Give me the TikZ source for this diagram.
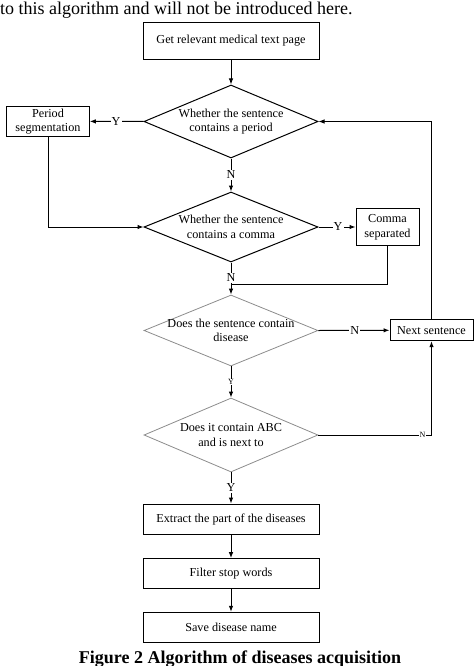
\documentclass[tikz,border=0pt]{standalone}
\usepackage{fontspec}
\setmainfont{Liberation Serif}
\usetikzlibrary{shapes.geometric,arrows.meta,positioning}

\begin{document}
\begin{tikzpicture}[
    x=1pt, y=-1pt,
    every node/.style={
        font=\fontsize{12.2}{14.6}\selectfont,
        inner sep=0pt,
        align=center
    },
    box/.style={draw, line width=1pt, rectangle, minimum width=176pt, minimum height=30pt},
    smallbox/.style={draw, line width=1pt, rectangle},
    decision/.style={draw, line width=1pt, diamond, minimum width=174pt, minimum height=72pt},
    fadedecision/.style={decision, draw=black!45, line width=0.8pt},
    flow/.style={line width=1pt, -{Latex[length=6pt,width=4.5pt]}},
    plain/.style={line width=1pt},
    tag/.style={fill=white, inner sep=1pt},
    smalltag/.style={fill=white, inner sep=0.5pt, font=\fontsize{8}{9}\selectfont}
]
\useasboundingbox (0,0) rectangle (474,666);

\node[anchor=base west, font=\fontsize{18}{20}\selectfont] (intro) at (0,15)
    {to this algorithm and will not be introduced here.};

\node[box, minimum height=37pt] (page) at (231,40.8) {Get relevant medical text page};
\node[decision, minimum height=73pt] (period) at (231,121.5) {};
\node at (period) {Whether the sentence\\contains a period};
\node[smallbox, minimum width=82.6pt, minimum height=29.3pt] (periodseg) at (48,121.4)
    {Period\\segmentation};
\node[decision, minimum height=70pt] (comma) at (231,227) {};
\node at (comma) {Whether the sentence\\contains a comma};
\node[smallbox, minimum width=63pt, minimum height=37.4pt] (commasep) at (387.5,227)
    {Comma\\separated};
\node[fadedecision, minimum height=71pt] (disease) at (231,330.5) {};
\node at (disease) {Does the sentence contain\\disease};
\node[smallbox, minimum width=83pt, minimum height=20.7pt] (next) at (431.5,330.3)
    {Next sentence};
\node[fadedecision, minimum height=74pt] (abc) at (231,435) {};
\node at (abc) {Does it contain ABC\\and is next to};
\node[box, minimum height=30.3pt] (extract) at (231,519.2) {Extract the part of the diseases};
\node[box, minimum height=29.6pt] (filter) at (231,573.5) {Filter stop words};
\node[box] (save) at (231,627.3) {Save disease name};

\node[anchor=base, font=\fontsize{18}{20}\selectfont\bfseries] (caption) at (240,663)
    {Figure 2 Algorithm of diseases acquisition};

\coordinate (join) at (231,284);

\draw[flow] (page) -- (period.north);
\draw[flow] (period.west) -- node[tag, pos=0.51]{Y} (periodseg.east);
\draw[flow] (period.south) -- node[tag]{N} (comma.north);
\draw[flow] (periodseg.south) |- (comma.west);
\draw[flow] (comma.east) -- node[tag, pos=0.53]{Y} (commasep.west);
\draw[plain] (commasep.south) |- (join);
\draw[flow] (comma.south) -- node[tag, pos=0.48]{N} (disease.north);
\draw[flow] (disease.east) -- node[tag, pos=0.51]{N} (next.west);
\draw[flow] (next.north) |- (period.east);
\draw[flow] (disease.south) -- node[smalltag, pos=0.49]{Y} (abc.north);
\draw[flow] (abc.east) -| node[smalltag, pos=0.46]{N} (next.south);
\draw[flow] (abc.south) -- node[tag, pos=0.5]{Y} (extract.north);
\draw[flow] (extract) -- (filter);
\draw[flow] (filter) -- (save);
\end{tikzpicture}
\end{document}
